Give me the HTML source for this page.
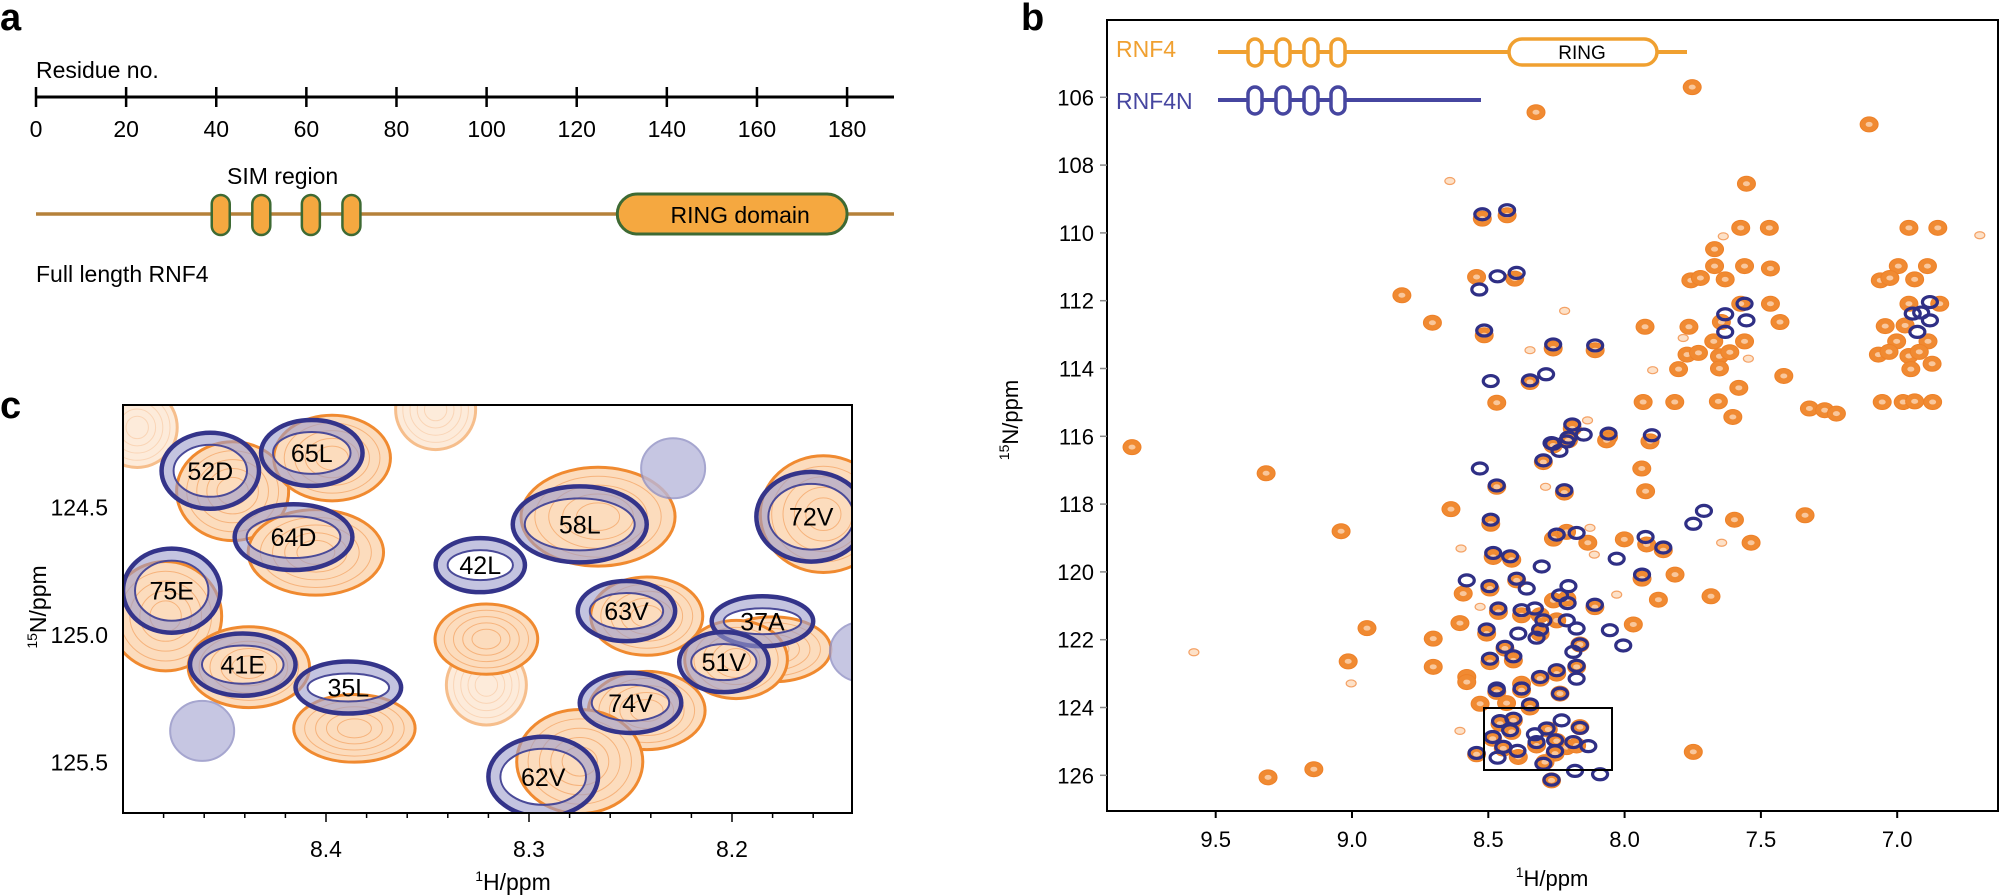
<!DOCTYPE html>
<html><head><meta charset="utf-8"><title>RNF4 NMR figure</title>
<style>
html,body{margin:0;padding:0;background:#fff;}
svg{display:block;font-family:"Liberation Sans",Arial,sans-serif;}
</style></head>
<body>
<svg id="fig" width="2005" height="896" viewBox="0 0 2005 896" xmlns="http://www.w3.org/2000/svg">
<defs>
<clipPath id="clipC"><rect x="123" y="405" width="729" height="408"/></clipPath>
<clipPath id="clipB"><rect x="1107" y="20" width="891" height="791"/></clipPath>
</defs>
<!-- Panel a -->
<g id="panelA">
<text x="0" y="30" font-size="38" font-weight="bold">a</text>
<text x="36" y="78" font-size="23">Residue no.</text>
<line x1="36" y1="97" x2="894" y2="97" stroke="#000" stroke-width="3"/>
<g id="aTicks"></g>
<line x1="36" y1="214" x2="894" y2="214" stroke="#b5813a" stroke-width="3.5"/>
<text x="227" y="184" font-size="23">SIM region</text>
<g id="aSims"></g>
<g id="aRing"></g>
<text x="36" y="282" font-size="23">Full length RNF4</text>
</g>

<!-- Panel c -->
<g id="panelC">
<text x="0" y="418" font-size="38" font-weight="bold">c</text>
<g id="cPeaks" clip-path="url(#clipC)"></g>
<g id="cLabels"></g>
<rect x="123" y="405" width="729" height="408" fill="none" stroke="#000" stroke-width="2"/>
<g id="cAxes"></g>
<text x="513" y="890" font-size="23" text-anchor="middle"><tspan font-size="14" dy="-9">1</tspan><tspan dy="9">H/ppm</tspan></text>
<text transform="translate(46,607) rotate(-90)" font-size="23" text-anchor="middle"><tspan font-size="14" dy="-9">15</tspan><tspan dy="9">N/ppm</tspan></text>
</g>

<!-- Panel b -->
<g id="panelB">
<text x="1021" y="30" font-size="38" font-weight="bold">b</text>
<g id="bPeaks" clip-path="url(#clipB)"></g>
<rect x="1107" y="20" width="891" height="791" fill="none" stroke="#000" stroke-width="2"/>
<g id="bAxes"></g>
<text x="1552" y="886" font-size="22" text-anchor="middle"><tspan font-size="14" dy="-9">1</tspan><tspan dy="9">H/ppm</tspan></text>
<text transform="translate(1018,420) rotate(-90)" font-size="22" text-anchor="middle"><tspan font-size="14" dy="-9">15</tspan><tspan dy="9">N/ppm</tspan></text>
<g>
<text x="1116" y="57" font-size="23" fill="#f0a030">RNF4</text>
<line x1="1218" y1="52" x2="1687" y2="52" stroke="#f0a030" stroke-width="4"/>
<text x="1116" y="109" font-size="23" fill="#4646a0">RNF4N</text>
<line x1="1218" y1="100" x2="1481" y2="100" stroke="#4646a0" stroke-width="4"/>
<g id="legendOvals"></g>
<rect x="1509" y="39" width="148" height="26" rx="13" fill="#fff" stroke="#f0a030" stroke-width="3.5"/>
<text x="1582" y="59" font-size="19" text-anchor="middle">RING</text>
</g>
<rect x="1484" y="708" width="128" height="62" fill="none" stroke="#000" stroke-width="2"/>
</g>

<script>
// ===== Panel a data =====
const residueTicks = [0,20,40,60,80,100,120,140,160,180];
const simResidues = [41,50,61,70];
const ringStart = 129, ringEnd = 180;

// ===== Panel c data (ppm) =====
const cLabelsTxt = ["52D","65L","64D","75E","41E","35L","42L","58L","72V","63V","37A","51V","74V","62V"];
const cBlueH = [8.457,8.407,8.416,8.476,8.441,8.389,8.324,8.275,8.161,8.252,8.185,8.204,8.250,8.293];
const cBlueN = [124.36,124.29,124.62,124.83,125.12,125.21,124.73,124.57,124.54,124.91,124.95,125.11,125.27,125.56];
const cOrH = [8.446,8.397,8.405,8.479,8.438,8.386,8.321,8.266,8.155,8.242,8.180,8.198,8.242,8.275];
const cOrN = [124.44,124.31,124.68,124.93,125.13,125.37,125.02,124.54,124.53,124.93,125.06,125.10,125.30,125.50];
const cWidthH = [0.024,0.025,0.029,0.024,0.026,0.026,0.022,0.033,0.027,0.024,0.025,0.022,0.025,0.027];
const cWidthN = [0.149,0.129,0.129,0.165,0.122,0.102,0.106,0.149,0.176,0.118,0.098,0.118,0.118,0.157];
const cExtraBlueH = [8.461,8.136,8.229];
const cExtraBlueN = [125.38,125.07,124.35];
const cExtraOrH = [8.346,8.493,8.321];
const cExtraOrN = [124.12,124.19,125.20];
const cXTicks = [8.4,8.3,8.2];
const cYTicks = [124.5,125.0,125.5];

// ===== Panel b data (ppm) =====
const bOrH = [7.553,8.522,8.431,7.574,7.469,6.957,6.851,7.67,7.67,7.56,7.465,6.996,6.889,7.757,7.722,7.631,7.062,7.027,6.936,8.543,8.403,8.817,8.705,8.515,7.925,7.764,7.574,7.465,7.43,6.957,6.844,7.645,7.044,6.971,7.673,7.56,7.002,6.887,7.771,7.729,7.652,7.614,7.069,7.03,6.957,6.919,7.802,7.652,6.95,6.872,7.416,7.581,8.262,8.108,8.347,8.469,7.932,7.816,7.656,7.603,7.322,7.266,7.223,7.055,6.978,6.936,6.87,8.192,8.262,8.206,8.059,
8.066,7.907,8.298,7.937,8.469,8.221,7.923,8.637,7.597,7.338,8.491,8.261,8.213,8.135,8.001,7.919,7.858,7.536,8.482,8.414,8.592,8.494,8.396,7.815,7.936,7.876,7.683,8.261,8.212,8.109,8.463,8.378,8.31,8.249,7.968,8.604,8.506,8.31,8.164,8.702,8.439,8.494,8.408,8.702,8.579,8.31,8.249,8.176,8.378,
8.469,8.378,8.237,8.347,8.53,8.433,8.579,8.457,8.408,8.414,8.484,8.445,8.543,8.39,8.323,8.28,8.249,8.213,8.176,8.164,8.255,8.292,8.268,7.748,
9.807,9.315,9.04,8.945,9.014,9.308,9.14,7.752,8.325,7.103];
const bOrN = [108.55,109.58,109.48,109.85,109.85,109.85,109.85,110.48,110.98,110.98,111.05,110.98,110.98,111.40,111.33,111.37,111.40,111.33,111.37,111.30,111.35,111.84,112.65,113.02,112.77,112.77,112.09,112.09,112.63,112.09,112.09,112.63,112.75,112.73,113.20,113.20,113.20,113.20,113.59,113.54,113.64,113.52,113.59,113.51,113.63,113.51,114.02,114.00,114.02,113.86,114.22,114.57,113.41,113.46,114.40,115.01,114.99,114.99,114.97,115.43,115.18,115.23,115.33,114.99,114.99,114.97,114.99,115.77,116.27,116.12,116.02,
116.12,116.15,116.76,116.95,117.49,117.66,117.62,118.15,118.46,118.33,118.58,119.02,118.82,119.14,119.04,119.19,119.36,119.14,119.56,119.64,120.64,120.49,120.25,120.08,120.20,120.82,120.72,120.84,120.79,121.04,121.18,121.28,121.28,121.43,121.55,121.51,121.82,121.82,122.14,121.97,122.26,122.66,122.61,122.80,123.10,123.15,123.00,122.80,123.30,
123.54,123.49,123.59,124.00,123.89,123.87,123.25,124.48,124.38,124.72,124.92,125.21,125.38,125.46,125.12,124.65,124.99,125.17,125.12,124.58,125.36,125.61,126.15,125.31,
116.32,117.09,118.80,121.66,122.64,126.06,125.82,105.70,106.44,106.80];
const bWeakH = [8.641,6.697,7.638,8.22,8.347,7.897,8.136,7.785,7.546,7.9,8.29,8.127,7.644,8.111,8.6,8.53,8.029,8.604,9.58,9.003];
const bWeakN = [108.47,110.07,110.10,112.30,113.46,114.05,115.53,113.10,113.71,116.12,117.49,118.70,119.14,119.49,119.31,121.03,120.67,124.69,122.37,123.29];
const bBlueH = [8.522,8.431,8.396,8.466,8.533,8.515,7.56,7.631,7.553,7.631,6.943,6.912,6.88,6.88,6.926,8.262,8.108,8.347,8.491,8.288,8.192,8.262,8.206,8.15,8.059,7.9,
8.268,8.213,8.239,8.298,8.531,8.469,8.221,7.709,7.748,8.491,8.249,8.176,7.923,7.858,8.482,8.42,8.304,8.029,8.579,8.496,8.396,8.359,7.936,8.237,8.206,8.209,8.109,8.463,8.378,8.329,8.298,8.212,8.506,8.39,8.31,8.054,8.005,8.164,8.323,8.176,8.439,8.494,8.408,8.188,8.31,8.249,8.176,8.176,8.469,8.378,
8.469,8.378,8.237,8.347,8.457,8.408,8.42,8.484,8.445,8.543,8.393,8.466,8.329,8.323,8.286,8.255,8.188,8.164,8.255,8.298,8.268,8.182,8.09,8.133,8.231];
const bBlueN = [109.45,109.33,111.18,111.28,111.67,112.88,112.09,112.40,112.58,112.92,112.38,112.35,112.04,112.58,112.92,113.29,113.32,114.35,114.37,114.17,115.65,116.22,116.04,115.95,115.92,115.97,
116.20,116.15,116.43,116.71,116.95,117.45,117.59,118.20,118.58,118.46,118.90,118.85,118.97,119.28,119.44,119.54,119.84,119.61,120.25,120.42,120.20,120.49,120.08,120.69,120.42,120.92,120.97,121.08,121.13,121.08,121.43,121.43,121.70,121.82,121.70,121.72,122.17,122.14,121.94,121.67,122.21,122.56,122.49,122.36,123.10,122.90,122.77,123.15,123.44,123.44,
123.49,123.44,123.59,123.91,124.40,124.33,124.67,124.87,125.16,125.34,125.28,125.48,124.79,125.02,124.62,124.97,125.02,124.60,125.29,125.66,126.13,125.87,125.97,125.14,124.38];
const bXTicks = [9.5,9.0,8.5,8.0,7.5,7.0];
const bYTicks = [106,108,110,112,114,116,118,120,122,124,126];

const NS = "http://www.w3.org/2000/svg";
function mk(tag, attrs, parent){const e=document.createElementNS(NS,tag);for(const k in attrs)e.setAttribute(k,attrs[k]);parent.appendChild(e);return e;}

// axis functions
const aX = r => 36 + r*4.506;
const cX = h => 529 - (h-8.3)*2030;
const cY = n => 634 + (n-125.0)*255;
const bX = h => 1215.7 - (h-9.5)*272.6;
const bY = n => 97.3 + (n-106)*33.9;

// ===== Panel a =====
const aT = document.getElementById('aTicks');
residueTicks.forEach(r=>{
  const l = mk('line',{x1:aX(r),y1:87,x2:aX(r),y2:107,stroke:'#000','stroke-width':2.5},aT);
  
  
  const t = mk('text',{x:aX(r),y:137,'font-size':23,'text-anchor':'middle'},aT);
  t.textContent = r;
  
  
});
const aS = document.getElementById('aSims');
simResidues.forEach(r=>{
  const s = mk('rect',{x:aX(r)-9,y:195,width:18,height:40,rx:9,fill:'#f5a840',stroke:'#3e6a33','stroke-width':2.5},aS);
  
  
});
const aR = document.getElementById('aRing');
const rr = mk('rect',{x:aX(ringStart),y:194,width:aX(ringEnd)-aX(ringStart),height:40,rx:20,fill:'#f5a840',stroke:'#3e6a33','stroke-width':3},aR);


const rt = mk('text',{x:(aX(ringStart)+aX(ringEnd))/2+8,y:223,'font-size':23,'text-anchor':'middle'},aR);
rt.textContent='RING domain';



// ===== Panel c =====
const cP = document.getElementById('cPeaks');
function orangeBlob(cx,cy,rx,ry,parent){
  const g = mk('g',{},parent);
  mk('ellipse',{cx:cx,cy:cy,rx:rx,ry:ry,fill:'#fcdcbd',stroke:'#f08a30','stroke-width':3},g);
  for(let k=1;k<=4;k++){
    mk('ellipse',{cx:cx,cy:cy,rx:rx*(1-k*0.18),ry:ry*(1-k*0.18),fill:'none',stroke:'#f6b37c','stroke-width':1},g);
  }
  return g;
}
function blueRing(cx,cy,rx,ry,parent){
  const g = mk('g',{},parent);
  mk('ellipse',{cx:cx,cy:cy,rx:rx-6,ry:ry-6,fill:'none',stroke:'#9c9ccc','stroke-width':10,opacity:0.6},g);
  mk('ellipse',{cx:cx,cy:cy,rx:rx,ry:ry,fill:'none',stroke:'#34348a','stroke-width':4.5},g);
  mk('ellipse',{cx:cx,cy:cy,rx:rx-12,ry:ry-12,fill:'none',stroke:'#4a4a98','stroke-width':2},g);
  return g;
}
cExtraOrH.forEach((h,i)=>{
  const g = orangeBlob(cX(h),cY(cExtraOrN[i]),40,40,cP);
  g.setAttribute('opacity','0.55');
  
  
});
cOrH.forEach((h,i)=>{
  const g = orangeBlob(cX(h),cY(cOrN[i]),cWidthH[i]*2030*1.15,cWidthN[i]*255*1.3,cP);
  
  
});
cExtraBlueH.forEach((h,i)=>{
  const e = mk('ellipse',{cx:cX(h),cy:cY(cExtraBlueN[i]),rx:32,ry:30,fill:'#b8b8dc',stroke:'#9090c4','stroke-width':2,opacity:0.8},cP);
  
  
});
cBlueH.forEach((h,i)=>{
  const g = blueRing(cX(h),cY(cBlueN[i]),cWidthH[i]*2030,cWidthN[i]*255,cP);
  
  
});
const cL = document.getElementById('cLabels');
cLabelsTxt.forEach((s,i)=>{
  const t = mk('text',{x:cX(cBlueH[i]),y:cY(cBlueN[i])+9,'font-size':25,'text-anchor':'middle'},cL);
  t.textContent = s;
  
  
});
const cA = document.getElementById('cAxes');
for(let k=0;k<=18;k++){
  const h = 8.5 - k*0.02;
  const x = cX(h);
  if(x<124||x>851) continue;
  const major = cXTicks.some(v=>Math.abs(v-h)<1e-6);
  const l = mk('line',{x1:x,y1:813,x2:x,y2:major?822:818,stroke:'#000','stroke-width':1.5},cA);
  
  
}
cXTicks.forEach(h=>{
  const t = mk('text',{x:cX(h),y:857,'font-size':23,'text-anchor':'middle'},cA);
  t.textContent = h.toFixed(1);
  
  
});
cYTicks.forEach(n=>{
  const t = mk('text',{x:108,y:cY(n)+9,'font-size':23,'text-anchor':'end'},cA);
  t.textContent = n.toFixed(1);
  
  
});

// ===== Panel b =====
const bP = document.getElementById('bPeaks');
bWeakH.forEach((h,i)=>{
  const e = mk('ellipse',{cx:bX(h),cy:bY(bWeakN[i]),rx:5,ry:3.5,fill:'#fde1c8',stroke:'#f4a266','stroke-width':1.2},bP);
  
  
});
bOrH.forEach((h,i)=>{
  const cx=bX(h), cy=bY(bOrN[i]);
  const e = mk('ellipse',{cx:cx,cy:cy,rx:9,ry:7.5,fill:'#f08a32',stroke:'#ee8128','stroke-width':1},bP);
  
  
  mk('ellipse',{cx:cx,cy:cy,rx:3.5,ry:2.5,fill:'#f9c79c'},bP);
});
bBlueH.forEach((h,i)=>{
  const e = mk('ellipse',{cx:bX(h),cy:bY(bBlueN[i]),rx:7.5,ry:5.5,fill:'none',stroke:'#2f2f85','stroke-width':3.2},bP);
  
  
});
const bA = document.getElementById('bAxes');
bXTicks.forEach(h=>{
  const l = mk('line',{x1:bX(h),y1:811,x2:bX(h),y2:818,stroke:'#000','stroke-width':2},bA);
  
  
  const t = mk('text',{x:bX(h),y:847,'font-size':22,'text-anchor':'middle'},bA);
  t.textContent = h.toFixed(1);
  
  
});
bYTicks.forEach(n=>{
  const l = mk('line',{x1:1100,y1:bY(n),x2:1107,y2:bY(n),stroke:'#888','stroke-width':1.5},bA);
  
  
  const t = mk('text',{x:1094,y:bY(n)+8,'font-size':22,'text-anchor':'end'},bA);
  t.textContent = n;
  
  
});
// legend ovals
const lo = document.getElementById('legendOvals');
[1255,1283,1311,1338].forEach(x=>{
  const a = mk('rect',{x:x-7,y:39,width:14,height:27,rx:7,fill:'#fff',stroke:'#f0a030','stroke-width':3.5},lo);
  
  
  const b = mk('rect',{x:x-7,y:87,width:14,height:27,rx:7,fill:'#fff',stroke:'#4646a0','stroke-width':3.5},lo);
  
  
});
</script>
</svg>
</body></html>
